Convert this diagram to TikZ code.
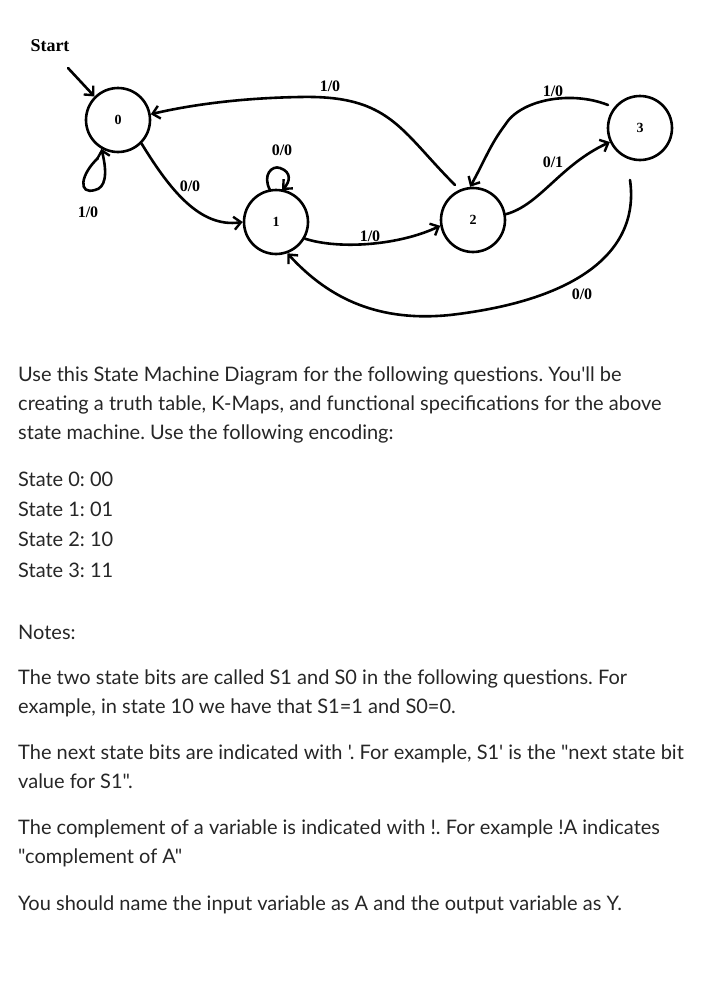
\documentclass[tikz,border=0pt]{standalone}
\usepackage{fontspec}
\setmainfont[Ligatures=TeXOff]{Lato}
\newfontfamily\lblfont{Liberation Serif}
\usetikzlibrary{arrows.meta}
\begin{document}
\frenchspacing
\begin{tikzpicture}[x=1pt,y=-1pt,
  st/.style={circle,draw,line width=2.6pt,minimum size=64pt,inner sep=0pt,font=\lblfont\bfseries\fontsize{14}{15}\selectfont},
  lbl/.style={font=\lblfont\bfseries\fontsize{16}{17}\selectfont},
  hand/.style={line width=2.6pt,line cap=round,-{Straight Barb[length=7pt,width=13pt,line width=2.4pt]}},
  txt/.style={anchor=base west,inner sep=0pt,font=\fontsize{20}{22}\selectfont,text=black!85}]
\useasboundingbox (0,0) rectangle (715,996);
\node[st] (s0) at (118,120) {0};
\node[st] (s1) at (276,222) {1};
\node[st] (s2) at (473,220) {2};
\node[st] (s3) at (640,128) {3};
\node[lbl,font=\lblfont\bfseries\fontsize{18}{19}\selectfont] (start) at (50,46) {Start};
\coordinate (st0) at (68,68);
\draw[hand] (st0) -- (s0.135);
% self loop 0
\coordinate (l0a) at (98,158);
\draw[hand] (l0a) .. controls (80,175) and (78,195) .. (95,190) .. controls (105,188) and (108,175) .. (s0.240);
\node[lbl] (t10a) at (88,212) {1/0};
% 0 -> 1
\draw[hand] (s0.-45) .. controls (170,190) and (200,228) .. (s1.180);
\node[lbl] (t00a) at (190,186) {0/0};
% 1 self loop
\coordinate (l1a) at (270,190);
\draw[hand] (l1a) .. controls (262,175) and (272,165) .. (280,168) .. controls (292,172) and (290,182) .. (282,190);
\node[lbl] (t00b) at (282,150) {0/0};
% 1 -> 2
\draw[hand] (s1.-30) .. controls (340,250) and (400,245) .. (s2.190);
\node[lbl] (t10b) at (370,236) {1/0};
% 2 -> 0
\coordinate (a20) at (455,185);
\draw[hand] (a20) .. controls (400,130) and (390,95) .. (300,97) .. controls (240,98) and (190,105) .. (s0.10);
\node[lbl] (t10c) at (330,86) {1/0};
% 3 -> 2
\coordinate (a32) at (608,105);
\draw[hand] (a32) .. controls (570,90) and (520,100) .. (505,125) .. controls (490,145) and (485,160) .. (s2.95);
\node[lbl] (t10d) at (553,91) {1/0};
% 2 -> 3
\draw[hand] (s2.10) .. controls (540,205) and (560,165) .. (s3.205);
\node[lbl] (t01) at (553,162) {0/1};
% 3 -> 1
\coordinate (a31) at (630,180);
\draw[hand] (a31) .. controls (640,250) and (580,300) .. (450,315) .. controls (380,322) and (330,300) .. (s1.-70);
\node[lbl] (t00c) at (582,294) {0/0};
% text
\node[txt] (p1) at (18,381) {Use this State Machine Diagram for the following questions. You'll be};
\node[txt] (p2) at (18,410) {creating a truth table, K-Maps, and functional specifications for the above};
\node[txt] (p3) at (18,439) {state machine. Use the following encoding:};
\node[txt] (e0) at (18,486) {State 0: 00};
\node[txt] (e1) at (18,516) {State 1: 01};
\node[txt] (e2) at (18,546) {State 2: 10};
\node[txt] (e3) at (18,577) {State 3: 11};
\node[txt] (n0) at (18,639) {Notes:};
\node[txt] (n1) at (18,684) {The two state bits are called S1 and S0 in the following questions. For};
\node[txt] (n2) at (18,713) {example, in state 10 we have that S1=1 and S0=0.};
\node[txt] (n3) at (18,759) {The next state bits are indicated with '. For example, S1' is the "next state bit};
\node[txt] (n4) at (18,788) {value for S1".};
\node[txt] (n5) at (18,834) {The complement of a variable is indicated with !. For example !A indicates};
\node[txt] (n6) at (18,863) {"complement of A"};
\node[txt] (n7) at (18,910) {You should name the input variable as A and the output variable as Y.};
\end{tikzpicture}
\end{document}
